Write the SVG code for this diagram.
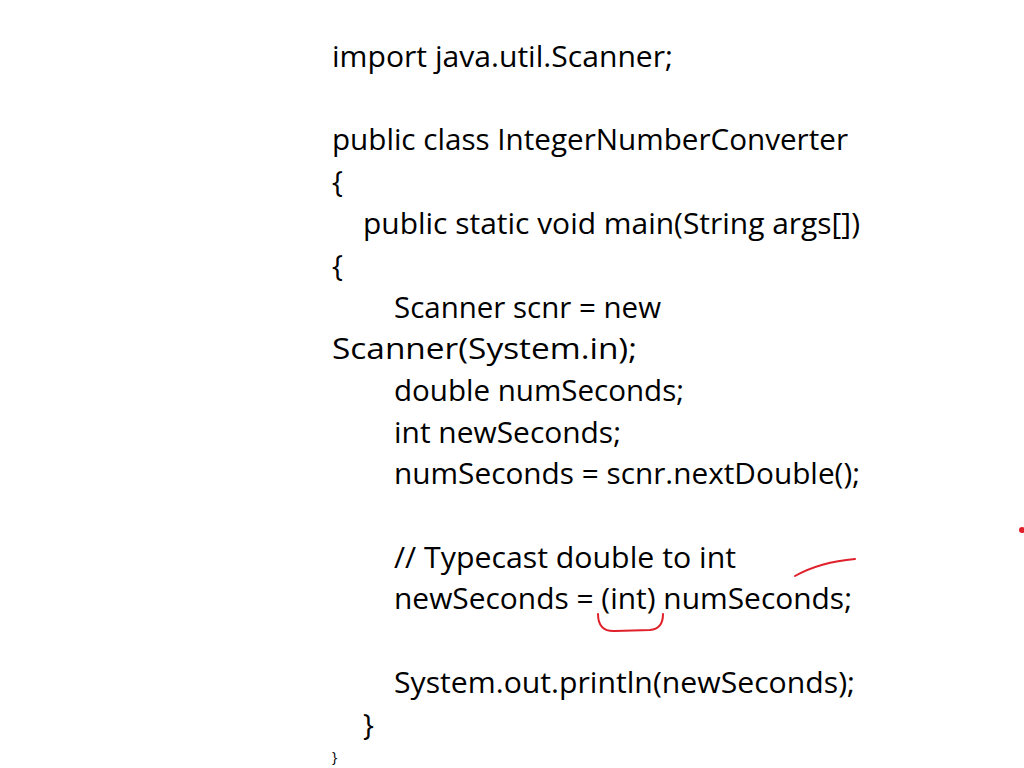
<svg xmlns="http://www.w3.org/2000/svg" width="1024" height="768" viewBox="0 0 1024 768">
<style>
text{font-family:"Open Sans","Liberation Sans",sans-serif;font-size:29px;fill:#000}
.r{fill:none;stroke:#e0202a;stroke-width:2;stroke-linecap:round}
</style>
<rect width="1024" height="768" fill="#fff"/>
<g id="code">
<text x="332" y="67" textLength="341" lengthAdjust="spacingAndGlyphs">import java.util.Scanner;</text>
<text x="332" y="150" textLength="516" lengthAdjust="spacingAndGlyphs">public class IntegerNumberConverter</text>
<text x="332" y="192">{</text>
<text x="363" y="234" textLength="497" lengthAdjust="spacingAndGlyphs">public static void main(String args[])</text>
<text x="332" y="276">{</text>
<text x="394" y="318" textLength="267" lengthAdjust="spacingAndGlyphs">Scanner scnr = new</text>
<text x="332" y="359" textLength="305" lengthAdjust="spacingAndGlyphs">Scanner(System.in);</text>
<text x="394" y="401" textLength="290" lengthAdjust="spacingAndGlyphs">double numSeconds;</text>
<text x="394" y="443" textLength="227" lengthAdjust="spacingAndGlyphs">int newSeconds;</text>
<text x="394" y="484" textLength="466" lengthAdjust="spacingAndGlyphs">numSeconds = scnr.nextDouble();</text>
<text x="394" y="568" textLength="342" lengthAdjust="spacingAndGlyphs">// Typecast double to int</text>
<text x="394" y="609" textLength="458" lengthAdjust="spacingAndGlyphs">newSeconds = (int) numSeconds;</text>
<text x="394" y="693" textLength="461" lengthAdjust="spacingAndGlyphs">System.out.println(newSeconds);</text>
<text x="363" y="735">}</text>
<text x="332" y="762" style="font-size:14px">}</text>
</g>
<g id="marks">
<path class="r" d="M795,576 Q820,562 855,559"/>
<path class="r" d="M598,614 Q598,632 615,631 L650,630 Q663,629 663,614"/>
<circle cx="1022" cy="530" r="3" fill="#e0202a"/>
</g>
</svg>
